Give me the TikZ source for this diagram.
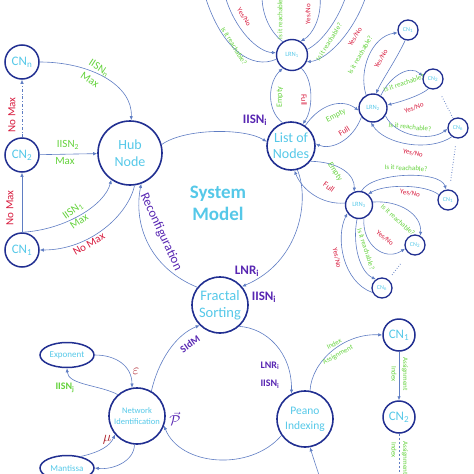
\documentclass[tikz,border=0pt]{standalone}
\usepackage{fontspec}
\setmainfont{Carlito}
\usepackage{amsmath}
\usetikzlibrary{arrows.meta, shapes.geometric}

\definecolor{navy}{RGB}{33,47,145}
\definecolor{nodecyan}{RGB}{85,200,232}
\definecolor{linkblue}{RGB}{95,125,195}
\definecolor{lblgreen}{RGB}{100,210,60}
\definecolor{lblred}{RGB}{215,25,60}
\definecolor{lblpurple}{RGB}{88,38,178}
\definecolor{symred}{RGB}{170,25,35}

\begin{document}
\begin{tikzpicture}[x=1pt, y=-1pt,
  bignode/.style = {circle, draw=navy, line width=1.6pt, text=nodecyan, align=center, inner sep=0pt},
  cnnode/.style = {circle, draw=navy, line width=1.5pt, text=nodecyan, inner sep=0pt, minimum size=34pt, font=\fontsize{13}{13}\selectfont},
  lrnnode/.style = {circle, draw=navy, line width=1.4pt, text=nodecyan, inner sep=0pt, minimum size=28pt, font=\fontsize{6.5}{6.5}\selectfont},
  leaf/.style = {circle, draw=navy, line width=1.3pt, text=nodecyan, inner sep=0pt, minimum size=20pt, font=\fontsize{6}{6}\selectfont},
  oval/.style = {ellipse, draw=navy, line width=1.5pt, text=nodecyan, inner sep=0pt, minimum width=54pt, minimum height=25pt, font=\fontsize{9}{9}\selectfont},
  wire/.style = {draw=linkblue, line width=0.6pt},
  link/.style = {wire, -{Latex[length=4pt,width=3.4pt]}},
  glbl/.style = {text=lblgreen, inner sep=0pt, font=\fontsize{11}{11}\selectfont},
  rlbl/.style = {text=lblred, inner sep=0pt, font=\fontsize{11}{11}\selectfont},
  plbl/.style = {text=lblpurple, inner sep=0pt, font=\fontsize{13}{13}\selectfont\bfseries},
  gsmall/.style = {text=lblgreen, inner sep=0pt, font=\fontsize{7}{7}\selectfont},
  rsmall/.style = {text=lblred, inner sep=0pt, font=\fontsize{7}{7}\selectfont},
]
\path[use as bounding box, clip] (0,0) rectangle (474,474);

% main loop
\node[bignode, minimum size=64pt, font=\fontsize{14}{17}\selectfont] (hub) at (130,153) {Hub\\Node};
\node[bignode, minimum size=48pt, font=\fontsize{14}{16}\selectfont] (lon) at (291,146) {List of\\Nodes};
\node[bignode, minimum size=56pt, font=\fontsize{14.5}{17}\selectfont] (fs) at (220,305) {Fractal\\Sorting};
\node[text=nodecyan, align=center, font=\fontsize{19}{22}\selectfont\bfseries] (sm) at (218,203) {System\\Model};

\draw[link] (hub.15) .. controls (185,128) and (245,128) .. (lon.170);
\draw[link] (lon.285) .. controls (310,200) and (300,262) .. (fs.40);
\draw[link] (fs.142) .. controls (150,268) and (133,225) .. (hub.290);
\node[plbl] (iisnlon) at (255,120) {IISN\textsubscript{i}};
\node[plbl] (lnrfs) at (247,271) {LNR\textsubscript{i}};
\node[plbl] (iisnfs) at (264,297) {IISN\textsubscript{i}};
\node[text=lblpurple, inner sep=0pt, font=\fontsize{13}{13}\selectfont, rotate=-65] (reconf) at (161,232) {Reconfiguration};

% left column
\node[cnnode] (cnn) at (22,62) {CN\textsubscript{n}};
\node[cnnode] (cnb) at (22,155) {CN\textsubscript{2}};
\node[cnnode] (cna) at (22,250) {CN\textsubscript{1}};

\draw[link] (cnn.east) .. controls (90,62) and (133,85) .. (hub.88);
\draw[link] (cnb) -- (hub);
\draw[link, dash dot] (cnb) -- (cnn);
\draw[link] (cna) -- (cnb);
\draw[link] (cna.north) .. controls (65,230) and (105,205) .. (hub.235);
\draw[link] (hub.278) .. controls (128,215) and (90,250) .. (cna.east);
\node[glbl, rotate=-33] (iisnn) at (99,68) {IISN\textsubscript{n}};
\node[glbl, rotate=-33] (maxn) at (90,80) {Max};
\node[glbl] (iisnb) at (68,145) {IISN\textsubscript{2}};
\node[glbl] (maxb) at (65,161) {Max};
\node[glbl, rotate=35] (iisna) at (73,211) {IISN\textsubscript{1}};
\node[glbl, rotate=35] (maxa) at (79,221) {Max};
\node[rlbl, rotate=90] (nomaxn) at (12,115) {No Max};
\node[rlbl, rotate=90] (nomaxb) at (10,208) {No Max};
\node[rlbl, rotate=30] (nomaxa) at (89,244) {No Max};

% lower part
\node[bignode, minimum size=56pt, font=\fontsize{8.5}{11}\selectfont] (nid) at (137,416) {Network\\Identification};
\node[oval] (exp) at (67,355) {Exponent};
\node[oval] (man) at (67,468) {Mantissa};
\node[bignode, minimum size=56pt, font=\fontsize{11.5}{15}\selectfont] (pea) at (305,419) {Peano\\Indexing};
\node[cnnode, minimum size=32pt] (rca) at (399,335) {CN\textsubscript{1}};
\node[cnnode, minimum size=32pt] (rcb) at (399,417) {CN\textsubscript{2}};
\coordinate (pin) at (320,478);
\coordinate (rcend) at (399,478);

\draw[link] (nid.60) .. controls (158,362) and (175,335) .. (fs.225);
\draw[link] (fs.312) .. controls (266,328) and (292,352) .. (pea.118);
\draw[link] (pea.215) .. controls (250,472) and (180,466) .. (nid.340);
\draw[link] (exp.east) .. controls (116,355) and (132,366) .. (nid.100);
\draw[link] (nid.132) .. controls (100,385) and (68,385) .. (exp.south);
\draw[link] (man.40) .. controls (100,452) and (110,446) .. (nid.220);
\draw[link] (nid.265) .. controls (134,462) and (112,470) .. (man.east);
\draw[link] (pin) .. controls (314,460) .. (pea.280);
\draw[link] (pea.80) .. controls (312,360) and (345,333) .. (rca.west);
\draw[link] (rca) -- (rcb);
\draw[wire, dash pattern=on 2pt off 2pt] (rcb) -- (rcend);
\node[plbl, font=\fontsize{10}{10}\selectfont\bfseries, rotate=35] (sidm) at (190,344) {SIdM};
\node[plbl, font=\fontsize{10}{10}\selectfont\bfseries] (lnrpea) at (270,366) {LNR\textsubscript{i}};
\node[plbl, font=\fontsize{10}{10}\selectfont\bfseries] (iisnpea) at (270,384) {IISN\textsubscript{i}};
\node[text=lblpurple, inner sep=0pt, font=\fontsize{14}{14}\selectfont] (pvec) at (175,419) {$\vec{\mathcal{P}}$};
\node[text=symred, inner sep=0pt, font=\fontsize{15}{15}\selectfont] (eps) at (136,371) {$\varepsilon$};
\node[text=symred, inner sep=0pt, font=\fontsize{15}{15}\selectfont] (mu) at (107,440) {$\mu$};
\node[glbl, font=\fontsize{10}{10}\selectfont\bfseries] (iisnj) at (65,388) {IISN\textsubscript{j}};
\node[gsmall, rotate=28] (idxa) at (334,344) {Index};
\node[gsmall, rotate=28] (asga) at (338,355) {Assignment};
\node[gsmall, rotate=-90] (idxb) at (394,374) {Index};
\node[gsmall, rotate=-90] (asgb) at (405,374) {Assignment};
\node[gsmall, rotate=-90] (idxc) at (394,450) {Index};
\node[gsmall, rotate=-90] (asgc) at (405,458) {Assignment};

% list of nodes and its LRNs
\node[lrnnode, minimum size=31pt] (lrna) at (292,55) {LRN\textsubscript{1}};
\node[lrnnode] (lrnb) at (373,108) {LRN\textsubscript{2}};
\node[lrnnode, minimum size=27pt] (lrnc) at (359,205) {LRN\textsubscript{3}};
\node[leaf] (ba) at (408,30) {CN\textsubscript{1}};
\node[leaf] (bb) at (433,79) {CN\textsubscript{2}};
\node[leaf] (bn) at (458,128) {CN\textsubscript{n}};
\node[leaf] (ca) at (448,200) {CN\textsubscript{1}};
\node[leaf] (cb) at (415,245) {CN\textsubscript{2}};
\node[leaf] (cn) at (382,288) {CN\textsubscript{n}};
\coordinate (topa) at (262,-4);
\coordinate (topb) at (320,-4);
\coordinate (rta) at (346,-4);
\coordinate (rtb) at (366,-4);
\coordinate (lfa) at (225,-4);
\coordinate (lfb) at (205,-4);

\draw[link] (lon.110) .. controls (266,110) and (268,82) .. (lrna.235);
\draw[link] (lrna.305) .. controls (314,80) and (313,110) .. (lon.62);
\draw[wire] (lrna.125) .. controls (268,30) and (262,12) .. (topa);
\draw[link] (topb) .. controls (322,18) and (312,35) .. (lrna.58);
\draw[wire] (lrna.20) .. controls (322,42) and (338,20) .. (rta);
\draw[link] (rtb) .. controls (355,30) and (328,60) .. (lrna.335);
\draw[link] (lfa) .. controls (235,30) and (258,52) .. (lrna.172);
\draw[wire] (lrna.195) .. controls (252,70) and (222,50) .. (lfb);
\node[glbl, font=\fontsize{8}{8}\selectfont, rotate=90] (emptya) at (280,97) {Empty};
\node[rlbl, font=\fontsize{8}{8}\selectfont, rotate=-90] (fulla) at (304,100) {Full};
\node[gsmall, rotate=90] (reachtop) at (280,18) {Is it reachable?};
\node[rsmall, rotate=90] (yntop) at (308,14) {Yes/No};
\node[gsmall, rotate=58] (reachrt) at (329,42) {Is it reachable?};
\node[rsmall, rotate=58] (ynrt) at (355,37) {Yes/No};
\node[rsmall, rotate=-58] (ynlf) at (244,17) {Yes/No};
\node[gsmall, rotate=-58] (reachlf) at (234,46) {Is it reachable?};

\draw[link] (lon.55) .. controls (320,104) and (342,98) .. (lrnb.190);
\draw[link] (lrnb.218) .. controls (352,142) and (330,150) .. (lon.5);
\draw[link] (lrnb.118) .. controls (358,70) and (372,36) .. (ba.195);
\draw[link] (ba.255) .. controls (396,60) and (382,80) .. (lrnb.78);
\draw[link] (lrnb.58) .. controls (390,76) and (410,64) .. (bb.165);
\draw[link] (bb.245) .. controls (422,95) and (400,102) .. (lrnb.12);
\draw[link] (lrnb.328) .. controls (395,136) and (430,142) .. (bn.185);
\draw[link] (bn.235) .. controls (430,152) and (385,145) .. (lrnb.262);
\draw[wire, dotted, line width=1pt, shorten <=9pt, shorten >=1pt] (bb) -- (bn);
\draw[wire, dotted, line width=1pt, shorten <=8pt, shorten >=7pt] (bn) -- (ca);
\node[glbl, font=\fontsize{8}{8}\selectfont, rotate=27] (emptyb) at (336,116) {Empty};
\node[rlbl, font=\fontsize{8}{8}\selectfont, rotate=32] (fullb) at (344,131) {Full};
\node[gsmall, rotate=60] (reachba) at (360,55) {Is it reachable?};
\node[rsmall, rotate=60] (ynba) at (381,59) {Yes/No};
\node[gsmall, rotate=20] (reachbb) at (404,83) {Is it reachable?};
\node[rsmall, rotate=20] (ynbb) at (414,108) {Yes/No};
\node[gsmall, rotate=-6] (reachbn) at (410,127) {Is it reachable?};
\node[rsmall, rotate=-12] (ynbn) at (413,153) {Yes/No};

\draw[link] (lon.322) .. controls (340,162) and (355,175) .. (lrnc.110);
\draw[link] (lrnc.172) .. controls (322,205) and (302,190) .. (lon.278);
\draw[link] (lrnc.80) .. controls (372,172) and (440,170) .. (ca.100);
\draw[link] (ca.150) .. controls (425,184) and (385,184) .. (lrnc.50);
\draw[link] (lrnc.12) .. controls (400,200) and (422,215) .. (cb.60);
\draw[link] (lrnc.290) .. controls (362,245) and (385,262) .. (cb.200);
\draw[link] (lrnc.262) .. controls (352,245) and (360,272) .. (cn.125);
\draw[link] (cn.205) .. controls (343,282) and (335,238) .. (lrnc.215);
\draw[wire, dotted, line width=1pt, shorten <=6pt, shorten >=12pt] (cn) -- (cb);
\node[glbl, font=\fontsize{8}{8}\selectfont, rotate=-58] (emptyc) at (335,172) {Empty};
\node[rlbl, font=\fontsize{8}{8}\selectfont, rotate=-35] (fullc) at (329,187) {Full};
\node[gsmall, rotate=-3] (reachca) at (406,168) {Is it reachable?};
\node[rsmall, rotate=-10] (ynca) at (410,193) {Yes/No};
\node[gsmall, rotate=-42] (reachcb) at (398,220) {Is it reachable?};
\node[rsmall, rotate=-40] (yncb) at (385,238) {Yes/No};
\node[gsmall, rotate=-72] (reachcn) at (366,249) {Is it reachable?};
\node[rsmall, rotate=-78] (yncn) at (337,258) {Yes/No};
\end{tikzpicture}
\end{document}
